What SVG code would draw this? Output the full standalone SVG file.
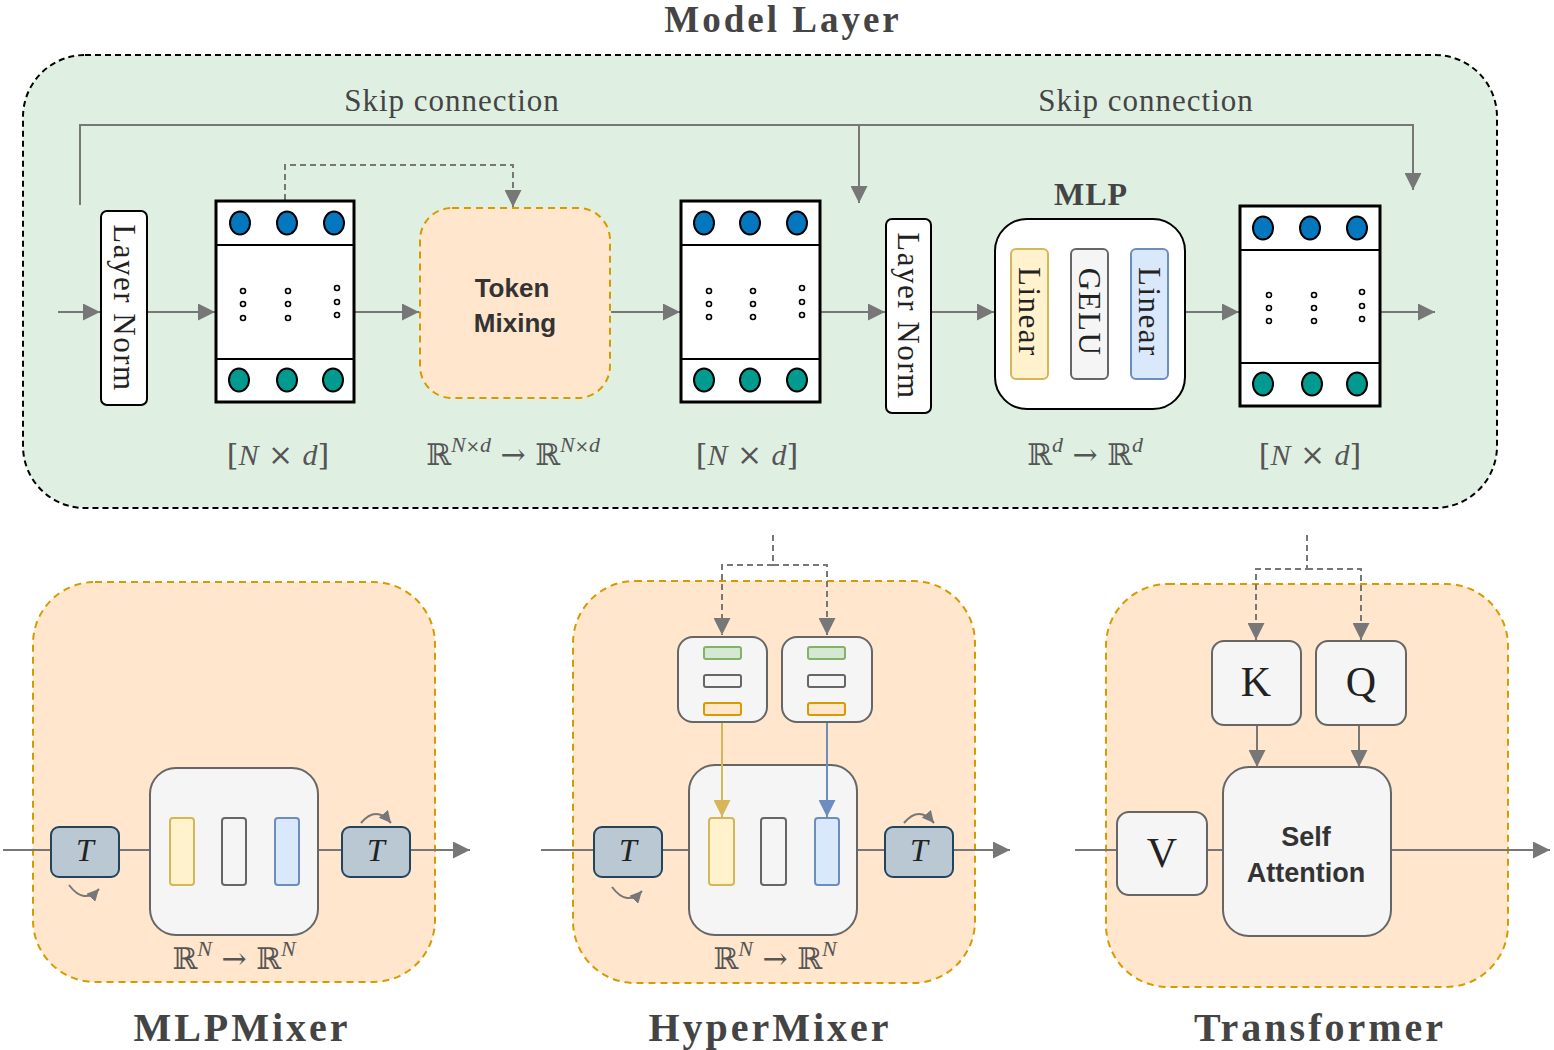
<svg xmlns="http://www.w3.org/2000/svg" width="1554" height="1050" viewBox="0 0 1554 1050">
<defs>
<marker id="ah" viewBox="0 0 10 10" refX="10" refY="5" markerWidth="17" markerHeight="17" markerUnits="userSpaceOnUse" orient="auto"><path d="M0,0 L10,5 L0,10 z" fill="#777"/></marker>
<marker id="ahs" viewBox="0 0 10 10" refX="10" refY="5" markerWidth="12" markerHeight="12" markerUnits="userSpaceOnUse" orient="auto"><path d="M0,0 L10,5 L0,10 z" fill="#777"/></marker>
<marker id="ahy" viewBox="0 0 10 10" refX="10" refY="5" markerWidth="17" markerHeight="17" markerUnits="userSpaceOnUse" orient="auto"><path d="M0,0 L10,5 L0,10 z" fill="#d6b656"/></marker>
<marker id="ahb" viewBox="0 0 10 10" refX="10" refY="5" markerWidth="17" markerHeight="17" markerUnits="userSpaceOnUse" orient="auto"><path d="M0,0 L10,5 L0,10 z" fill="#6c8ebf"/></marker>
</defs>
<style>
.serif{font-family:"Liberation Serif","DejaVu Serif",serif;}
.sans{font-family:"Liberation Sans","DejaVu Sans",sans-serif;}
.title{font-family:"Liberation Serif","DejaVu Serif",serif;font-weight:bold;fill:#444;}
.math{font-family:"DejaVu Serif","Liberation Serif",serif;fill:#555;}
.it{font-style:italic;font-family:"Liberation Serif",serif;}
.conn{stroke:#777;stroke-width:2;fill:none;}
.dash{stroke:#777;stroke-width:2;fill:none;stroke-dasharray:6,4;}
.mat{fill:#fff;stroke:#000;stroke-width:3;}
.ln{fill:#fff;stroke:#000;stroke-width:2;}
.blue{fill:#0477be;stroke:#000;stroke-width:2;}
.teal{fill:#009b8e;stroke:#000;stroke-width:2;}
.dot{fill:#fff;stroke:#000;stroke-width:1.6;}
.orange{fill:#ffe6cc;stroke:#d79b00;stroke-width:2;stroke-dasharray:7,5;}
.gbox{fill:#f5f5f5;stroke:#666;stroke-width:2;}
.tbox{fill:#bac8d3;stroke:#23445d;stroke-width:2;}
.ybar{fill:#fff2cc;stroke:#d6b656;stroke-width:2;}
.bbar{fill:#dae8fc;stroke:#6c8ebf;stroke-width:2;}
.wbar{fill:#f5f5f5;stroke:#666;stroke-width:2;}
.gnbar{fill:#d5e8d4;stroke:#82b366;stroke-width:2;}
.obar{fill:#ffe6cc;stroke:#d79b00;stroke-width:2;}
.vt{font-family:"Liberation Serif","DejaVu Serif",serif;font-size:31px;fill:#222;letter-spacing:1.5px;}
</style>
<rect width="1554" height="1050" fill="#fff"/>

<!-- Panels (backgrounds) -->
<g id="model-layer">
<rect x="23" y="55" width="1474" height="453" rx="62" fill="#dff0e3" stroke="#000" stroke-width="2" stroke-dasharray="6,4"/>
<text x="783" y="32" text-anchor="middle" class="title" font-size="37" letter-spacing="3">Model Layer</text>
</g>
<g id="mlpmixer-panel">
<rect class="orange" x="33" y="582" width="402" height="400" rx="62"/>
<text x="242" y="1041" text-anchor="middle" class="title" font-size="40" letter-spacing="3">MLPMixer</text>
</g>
<g id="hypermixer-panel">
<rect class="orange" x="573" y="581" width="402" height="402" rx="62"/>
<text x="770" y="1041" text-anchor="middle" class="title" font-size="40" letter-spacing="3">HyperMixer</text>
</g>
<g id="transformer-panel">
<rect class="orange" x="1106" y="584" width="402" height="403" rx="62"/>
<text x="1320" y="1041" text-anchor="middle" class="title" font-size="40" letter-spacing="3">Transformer</text>
</g>

<g id="connectors">
<!-- skip connection -->
<path class="conn" d="M80,205 V125 H1413 V190" marker-end="url(#ah)"/>
<path class="conn" d="M859,125 V203" marker-end="url(#ah)"/>
<!-- main flow -->
<line class="conn" x1="58" y1="312" x2="100" y2="312" marker-end="url(#ah)"/>
<line class="conn" x1="147" y1="312" x2="215" y2="312" marker-end="url(#ah)"/>
<line class="conn" x1="355" y1="312" x2="419" y2="312" marker-end="url(#ah)"/>
<line class="conn" x1="611" y1="312" x2="680" y2="312" marker-end="url(#ah)"/>
<line class="conn" x1="821" y1="312" x2="885" y2="312" marker-end="url(#ah)"/>
<line class="conn" x1="932" y1="312" x2="994" y2="312" marker-end="url(#ah)"/>
<line class="conn" x1="1186" y1="312" x2="1239" y2="312" marker-end="url(#ah)"/>
<line class="conn" x1="1381" y1="312" x2="1435" y2="312" marker-end="url(#ah)"/>
<!-- token mixing dashed -->
<path class="dash" d="M285,200 V165 H513 V207" marker-end="url(#ah)"/>
<!-- bottom row lines -->
<line class="conn" x1="3" y1="850" x2="470" y2="850" marker-end="url(#ah)"/>
<line class="conn" x1="541" y1="850" x2="1010" y2="850" marker-end="url(#ah)"/>
<line class="conn" x1="1075" y1="850" x2="1550" y2="850" marker-end="url(#ah)"/>
<!-- hypermixer dashed -->
<path class="dash" d="M773,535 V565 H722 V635" marker-end="url(#ah)"/>
<path class="dash" d="M773,565 H827 V635" marker-end="url(#ah)"/>
<line x1="722" y1="722" x2="722" y2="766" stroke="#d6b656" stroke-width="2"/>
<line x1="827" y1="722" x2="827" y2="766" stroke="#6c8ebf" stroke-width="2"/>
<!-- transformer dashed -->
<path class="dash" d="M1307,535 V569 H1256 V640" marker-end="url(#ah)"/>
<path class="dash" d="M1307,569 H1361 V640" marker-end="url(#ah)"/>
<line class="conn" x1="1257" y1="725" x2="1257" y2="767" marker-end="url(#ah)"/>
<line class="conn" x1="1359" y1="725" x2="1359" y2="767" marker-end="url(#ah)"/>
<!-- rotation arrows -->
<path class="conn" d="M69,885 Q84,905 99,889" marker-end="url(#ahs)"/>
<path class="conn" d="M361,823 Q376,805 391,823" marker-end="url(#ahs)"/>
<path class="conn" d="M612,887 Q627,907 642,891" marker-end="url(#ahs)"/>
<path class="conn" d="M904,823 Q919,805 934,823" marker-end="url(#ahs)"/>
</g>

<text x="452" y="111" text-anchor="middle" class="serif" font-size="31" letter-spacing="1" fill="#444">Skip connection</text>
<text x="1146" y="111" text-anchor="middle" class="serif" font-size="31" letter-spacing="1" fill="#444">Skip connection</text>

<g id="layernorm1">
<rect class="ln" x="101" y="211" width="46" height="194" rx="6"/>
<text x="124" y="308" transform="rotate(90 124 308)" text-anchor="middle" dominant-baseline="central" class="vt">Layer Norm</text>
</g>

<g id="matrix1">
<rect class="mat" x="216" y="201" width="138" height="201"/>
<line x1="216" y1="245" x2="354" y2="245" stroke="#000" stroke-width="2"/>
<line x1="216" y1="359" x2="354" y2="359" stroke="#000" stroke-width="2"/>
<ellipse class="blue" cx="240" cy="223" rx="10" ry="11.5"/>
<ellipse class="blue" cx="287" cy="223" rx="10" ry="11.5"/>
<ellipse class="blue" cx="334" cy="223" rx="10" ry="11.5"/>
<ellipse class="teal" cx="239" cy="380" rx="10" ry="11.5"/>
<ellipse class="teal" cx="287" cy="380" rx="10" ry="11.5"/>
<ellipse class="teal" cx="333" cy="380" rx="10" ry="11.5"/>
<circle class="dot" cx="243" cy="291" r="2.5"/><circle class="dot" cx="243" cy="304" r="2.5"/><circle class="dot" cx="243" cy="318" r="2.5"/>
<circle class="dot" cx="288" cy="291" r="2.5"/><circle class="dot" cx="288" cy="304" r="2.5"/><circle class="dot" cx="288" cy="318" r="2.5"/>
<circle class="dot" cx="337" cy="288" r="2.5"/><circle class="dot" cx="337" cy="302" r="2.5"/><circle class="dot" cx="337" cy="315" r="2.5"/>
</g>

<g id="token-mixing">
<rect class="orange" x="420" y="208" width="190" height="190" rx="32"/>
<text x="512" y="297" text-anchor="middle" class="sans" font-size="26" font-weight="bold" fill="#333">Token</text>
<text x="515" y="332" text-anchor="middle" class="sans" font-size="26" font-weight="bold" fill="#333">Mixing</text>
</g>

<g id="matrix2">
<rect class="mat" x="681" y="201" width="139" height="201"/>
<line x1="681" y1="245" x2="820" y2="245" stroke="#000" stroke-width="2"/>
<line x1="681" y1="359" x2="820" y2="359" stroke="#000" stroke-width="2"/>
<ellipse class="blue" cx="704" cy="223" rx="10" ry="11.5"/>
<ellipse class="blue" cx="750" cy="223" rx="10" ry="11.5"/>
<ellipse class="blue" cx="797" cy="223" rx="10" ry="11.5"/>
<ellipse class="teal" cx="704" cy="380" rx="10" ry="11.5"/>
<ellipse class="teal" cx="750" cy="380" rx="10" ry="11.5"/>
<ellipse class="teal" cx="797" cy="380" rx="10" ry="11.5"/>
<circle class="dot" cx="709" cy="291" r="2.5"/><circle class="dot" cx="709" cy="304" r="2.5"/><circle class="dot" cx="709" cy="317" r="2.5"/>
<circle class="dot" cx="753" cy="291" r="2.5"/><circle class="dot" cx="753" cy="304" r="2.5"/><circle class="dot" cx="753" cy="317" r="2.5"/>
<circle class="dot" cx="802" cy="288" r="2.5"/><circle class="dot" cx="802" cy="302" r="2.5"/><circle class="dot" cx="802" cy="315" r="2.5"/>
</g>

<g id="layernorm2">
<rect class="ln" x="886" y="219" width="45" height="194" rx="6"/>
<text x="908" y="316" transform="rotate(90 908 316)" text-anchor="middle" dominant-baseline="central" class="vt">Layer Norm</text>
</g>

<g id="mlp">
<text x="1091" y="205" text-anchor="middle" class="title" font-size="32" letter-spacing="1">MLP</text>
<rect x="995" y="219" width="190" height="190" rx="32" fill="#fff" stroke="#000" stroke-width="2"/>
<rect class="ybar" x="1011" y="249" width="37" height="130" rx="5"/>
<rect class="wbar" x="1071" y="249" width="37" height="130" rx="5"/>
<rect class="bbar" x="1131" y="249" width="37" height="130" rx="5"/>
<text x="1029" y="312" transform="rotate(90 1029 312)" text-anchor="middle" dominant-baseline="central" class="vt" letter-spacing="2">Linear</text>
<text x="1089" y="312" transform="rotate(90 1089 312)" text-anchor="middle" dominant-baseline="central" class="vt" letter-spacing="2">GELU</text>
<text x="1149" y="312" transform="rotate(90 1149 312)" text-anchor="middle" dominant-baseline="central" class="vt" letter-spacing="2">Linear</text>
</g>

<g id="matrix3">
<rect class="mat" x="1240" y="206" width="140" height="200"/>
<line x1="1240" y1="250" x2="1380" y2="250" stroke="#000" stroke-width="2"/>
<line x1="1240" y1="363" x2="1380" y2="363" stroke="#000" stroke-width="2"/>
<ellipse class="blue" cx="1263" cy="228" rx="10" ry="11.5"/>
<ellipse class="blue" cx="1310" cy="228" rx="10" ry="11.5"/>
<ellipse class="blue" cx="1357" cy="228" rx="10" ry="11.5"/>
<ellipse class="teal" cx="1263" cy="384" rx="10" ry="11.5"/>
<ellipse class="teal" cx="1312" cy="384" rx="10" ry="11.5"/>
<ellipse class="teal" cx="1357" cy="384" rx="10" ry="11.5"/>
<circle class="dot" cx="1269" cy="295" r="2.5"/><circle class="dot" cx="1269" cy="308" r="2.5"/><circle class="dot" cx="1269" cy="321" r="2.5"/>
<circle class="dot" cx="1314" cy="295" r="2.5"/><circle class="dot" cx="1314" cy="308" r="2.5"/><circle class="dot" cx="1314" cy="321" r="2.5"/>
<circle class="dot" cx="1362" cy="292" r="2.5"/><circle class="dot" cx="1362" cy="306" r="2.5"/><circle class="dot" cx="1362" cy="319" r="2.5"/>
</g>

<!-- math labels top -->
<g class="math" font-size="30">
<text x="278" y="465" text-anchor="middle">[<tspan class="it">N</tspan> × <tspan class="it">d</tspan>]</text>
<text x="747" y="465" text-anchor="middle">[<tspan class="it">N</tspan> × <tspan class="it">d</tspan>]</text>
<text x="1310" y="465" text-anchor="middle">[<tspan class="it">N</tspan> × <tspan class="it">d</tspan>]</text>
<text x="513" y="465" text-anchor="middle">ℝ<tspan class="it" font-size="22" dy="-13">N</tspan><tspan font-size="17">×</tspan><tspan class="it" font-size="22">d</tspan><tspan dy="13">  →  ℝ</tspan><tspan class="it" font-size="22" dy="-13">N</tspan><tspan font-size="17">×</tspan><tspan class="it" font-size="22">d</tspan></text>
<text x="1085" y="465" text-anchor="middle">ℝ<tspan class="it" font-size="22" dy="-13">d</tspan><tspan dy="13">  →  ℝ</tspan><tspan class="it" font-size="22" dy="-13">d</tspan></text>
</g>

<!-- MLPMixer nodes -->
<g id="mlpmixer">
<rect class="tbox" x="51" y="827" width="68" height="50" rx="8"/>
<text x="85" y="861" text-anchor="middle" class="serif" font-style="italic" font-size="32" fill="#222">T</text>
<rect class="gbox" x="150" y="768" width="168" height="167" rx="26"/>
<rect class="ybar" x="170" y="818" width="24" height="67" rx="3"/>
<rect class="wbar" x="222" y="818" width="24" height="67" rx="3"/>
<rect class="bbar" x="275" y="818" width="24" height="67" rx="3"/>
<rect class="tbox" x="342" y="827" width="68" height="50" rx="8"/>
<text x="376" y="861" text-anchor="middle" class="serif" font-style="italic" font-size="32" fill="#222">T</text>
<text x="234" y="969" text-anchor="middle" class="math" font-size="30">ℝ<tspan class="it" font-size="22" dy="-13">N</tspan><tspan dy="13">  →  ℝ</tspan><tspan class="it" font-size="22" dy="-13">N</tspan></text>
</g>

<!-- HyperMixer nodes -->
<g id="hypermixer">
<rect class="gbox" x="678" y="637" width="89" height="85" rx="15"/>
<rect class="gnbar" x="704" y="647" width="37" height="12" rx="2"/>
<rect class="wbar" x="704" y="675" width="37" height="12" rx="2"/>
<rect class="obar" x="704" y="703" width="37" height="12" rx="2"/>
<rect class="gbox" x="782" y="637" width="90" height="85" rx="15"/>
<rect class="gnbar" x="808" y="647" width="37" height="12" rx="2"/>
<rect class="wbar" x="808" y="675" width="37" height="12" rx="2"/>
<rect class="obar" x="808" y="703" width="37" height="12" rx="2"/>
<rect class="tbox" x="594" y="827" width="68" height="50" rx="8"/>
<text x="628" y="861" text-anchor="middle" class="serif" font-style="italic" font-size="32" fill="#222">T</text>
<rect class="gbox" x="689" y="765" width="168" height="170" rx="26"/>
<line x1="722" y1="764" x2="722" y2="817" stroke="#d6b656" stroke-width="2" marker-end="url(#ahy)"/>
<line x1="827" y1="764" x2="827" y2="817" stroke="#6c8ebf" stroke-width="2" marker-end="url(#ahb)"/>
<rect class="ybar" x="709" y="818" width="25" height="67" rx="3"/>
<rect class="wbar" x="761" y="818" width="25" height="67" rx="3"/>
<rect class="bbar" x="815" y="818" width="24" height="67" rx="3"/>
<rect class="tbox" x="885" y="827" width="68" height="50" rx="8"/>
<text x="919" y="861" text-anchor="middle" class="serif" font-style="italic" font-size="32" fill="#222">T</text>
<text x="775" y="969" text-anchor="middle" class="math" font-size="30">ℝ<tspan class="it" font-size="22" dy="-13">N</tspan><tspan dy="13">  →  ℝ</tspan><tspan class="it" font-size="22" dy="-13">N</tspan></text>
</g>

<!-- Transformer nodes -->
<g id="transformer">
<rect class="gbox" x="1212" y="641" width="89" height="84" rx="12"/>
<text x="1256" y="696" text-anchor="middle" class="serif" font-size="42" fill="#222">K</text>
<rect class="gbox" x="1316" y="641" width="90" height="84" rx="12"/>
<text x="1361" y="696" text-anchor="middle" class="serif" font-size="42" fill="#222">Q</text>
<rect class="gbox" x="1117" y="812" width="90" height="83" rx="12"/>
<text x="1162" y="867" text-anchor="middle" class="serif" font-size="42" fill="#222">V</text>
<rect class="gbox" x="1223" y="767" width="168" height="169" rx="26"/>
<text x="1306" y="846" text-anchor="middle" class="sans" font-size="27" font-weight="bold" fill="#333">Self</text>
<text x="1306" y="882" text-anchor="middle" class="sans" font-size="27" font-weight="bold" fill="#333">Attention</text>
</g>
</svg>
